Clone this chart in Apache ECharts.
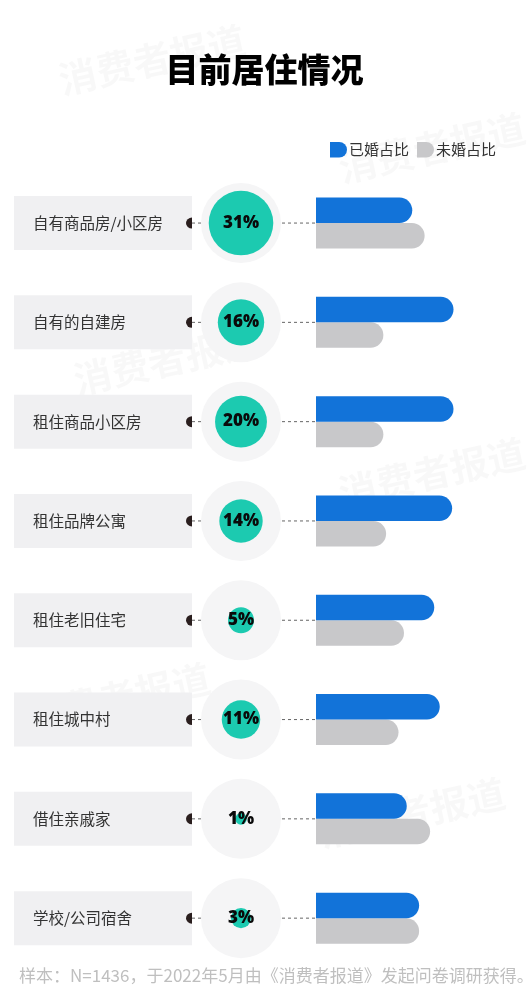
<!DOCTYPE html>
<html>
<head>
<meta charset="utf-8">
<script src="https://cdn.jsdelivr.net/npm/echarts@6/dist/echarts.min.js"></script>
<style>
  html, body { margin: 0; padding: 0; background: #fff; }
  #main { width: 529px; height: 1000px; }
</style>
</head>
<body>
<div id="main"></div>
<script>
// 居住类型
var categories = ['自有商品房/小区房', '自有的自建房', '租住商品小区房', '租住品牌公寓', '租住老旧住宅', '租住城中村', '借住亲戚家', '学校/公司宿舍'];
// 总体占比 (%)
var shares = [31, 16, 20, 14, 5, 11, 1, 3];
// 已婚 / 未婚 (图中未标数值，按条形长度估读的指数，最长=100)
var married = [70, 100, 100, 99, 86, 90, 66, 75];
var unmarried = [79, 49, 49, 51, 64, 60, 83, 75];

var FONT = '"Noto Sans CJK SC", "Noto Sans", sans-serif';
var TOP = 173.4, HEIGHT = 794.4;

var chart = echarts.init(document.getElementById('main'));

function catAxis(idx) {
	return {
		type: 'category', gridIndex: idx, data: categories, inverse: true,
		show: false
	};
}

// 水印
var wm = [[55, 62], [70, 362], [335, 475], [315, 815], [335, 150], [20, 700]].map(function (p) {
	return {
		type: 'text', x: p[0], y: p[1], rotation: 0.22, z: -10, silent: true,
		style: { text: '消费者报道', font: 'bold 38px ' + FONT, fill: 'rgba(0,0,0,0.028)' }
	};
});

var option = {
	backgroundColor: '#fff',
	animation: false,
	title: [{
		text: '目前居住情况', left: 'center', top: 48,
		textStyle: { fontSize: 33, fontWeight: 900, color: '#000', fontFamily: FONT }
	}, {
		text: '样本：N=1436，于2022年5月由《消费者报道》发起问卷调研获得。', left: 14, top: 962,
		textStyle: { fontSize: 17, fontWeight: 'normal', color: '#bfbfbf', fontFamily: FONT }
	}],
	legend: {
		right: 28, top: 137, itemWidth: 17, itemHeight: 17, itemGap: 8,
		icon: 'path://M0,0 H6 A5,5 0 0,1 6,10 H0 Z',
		textStyle: { fontSize: 15, color: '#333', fontFamily: FONT, padding: [0, 0, 0, -3] },
		data: ['已婚占比', '未婚占比']
	},
	graphic: wm,
	grid: [
		{ left: 14, width: 178, top: TOP, height: HEIGHT },   // 标签
		{ left: 192, width: 124, top: TOP, height: HEIGHT },  // 虚线
		{ left: 201, width: 80, top: TOP, height: HEIGHT },   // 圆
		{ left: 316, width: 137.5, top: TOP, height: HEIGHT } // 条形
	],
	xAxis: [
		{ type: 'value', gridIndex: 0, min: 0, max: 1, show: false },
		{ type: 'value', gridIndex: 1, min: 0, max: 1, show: false },
		{ type: 'category', gridIndex: 2, data: ['占比'], show: false },
		{ type: 'value', gridIndex: 3, min: 0, max: 100, show: false }
	],
	yAxis: [catAxis(0), catAxis(1), catAxis(2), catAxis(3)],
	series: [
		{
			type: 'bar', xAxisIndex: 0, yAxisIndex: 0, barWidth: 54, silent: true,
			data: categories.map(function () { return 1; }),
			itemStyle: { color: '#f0f0f2' },
			label: {
				show: true, position: 'insideLeft', distance: 19,
				formatter: function (p) { return p.name; },
				fontSize: 15.5, color: '#333', fontFamily: FONT
			}
		},
		{
			type: 'scatter', xAxisIndex: 0, yAxisIndex: 0, silent: true, z: 5,
			symbol: 'path://M10,0 A10,10 0 0,0 10,20 Z', symbolSize: [6, 11], symbolOffset: [-3, 0],
			data: categories.map(function (c) { return [1, c]; }),
			itemStyle: { color: '#2a1e1e', opacity: 1 }
		},
		{
			type: 'custom', xAxisIndex: 1, yAxisIndex: 1, silent: true, z: 1,
			data: categories.map(function (c, i) { return [0, i]; }),
			renderItem: function (params, api) {
				var a = api.coord([0, api.value(1)]);
				var b = api.coord([1, api.value(1)]);
				return {
					type: 'line',
					shape: { x1: a[0], y1: a[1], x2: b[0], y2: b[1] },
					style: { stroke: '#666', lineWidth: 1, lineDash: [3, 3] }
				};
			}
		},
		{
			type: 'scatter', xAxisIndex: 2, yAxisIndex: 2, silent: true, z: 3,
			symbolSize: 80,
			data: categories.map(function (c, i) { return [0, i]; }),
			itemStyle: { color: '#f5f5f6', opacity: 1 }
		},
		{
			type: 'scatter', xAxisIndex: 2, yAxisIndex: 2, silent: true, z: 4,
			data: shares.map(function (v, i) { return [0, i, v]; }),
			symbolSize: function (d) { return 11.6 * Math.sqrt(d[2]); },
			itemStyle: { color: '#1ccab0', opacity: 1 },
			label: {
				show: true, position: 'inside',
				formatter: function (p) { return p.data[2] + '%'; },
				fontSize: 17, fontWeight: 800, color: '#0a0a0a', fontFamily: '"Open Sans", sans-serif'
			}
		},
		{
			name: '已婚占比', type: 'bar', xAxisIndex: 3, yAxisIndex: 3,
			barWidth: 25.5, barGap: '0%', silent: true, z: 3,
			data: married,
			itemStyle: { color: '#1273d9', borderRadius: [0, 13, 13, 0] }
		},
		{
			name: '未婚占比', type: 'bar', xAxisIndex: 3, yAxisIndex: 3,
			barWidth: 25.5, barGap: '0%', silent: true, z: 2,
			data: unmarried,
			itemStyle: { color: '#c8c8ca', borderRadius: [0, 13, 13, 0] }
		}
	]
};

chart.setOption(option);
</script>
</body>
</html>
